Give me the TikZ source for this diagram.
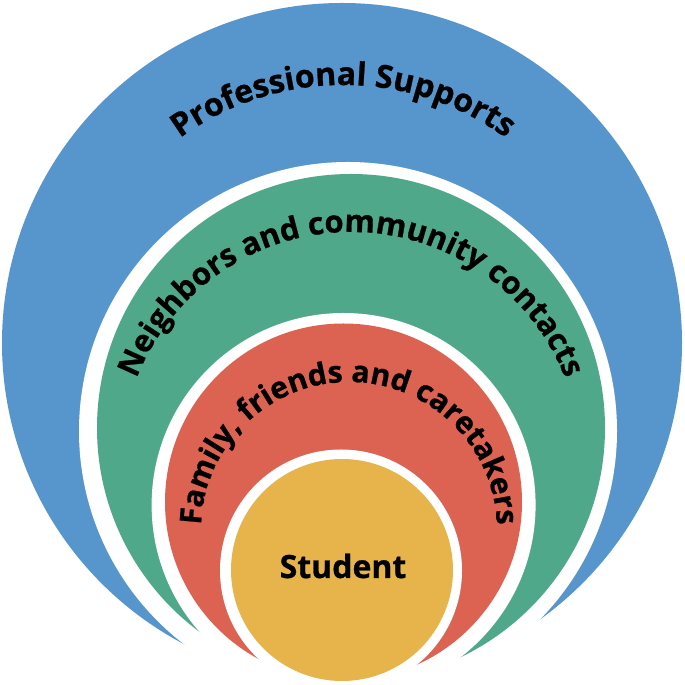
\documentclass[tikz,border=0pt]{standalone}
\usepackage{fontspec}
\setmainfont{Open Sans}[BoldFeatures={FakeBold=0.8}]
\usetikzlibrary{decorations.text}
\definecolor{cblue}{HTML}{5696CC}
\definecolor{cgreen}{HTML}{50A88A}
\definecolor{cred}{HTML}{DC6252}
\definecolor{cyellow}{HTML}{E6B44B}
\begin{document}
\begin{tikzpicture}[x=1pt,y=1pt,
  gap/.style={fill=white}]
\useasboundingbox (0,0) rectangle (685,685);
\clip (0,0) rectangle (685,685);
% rings
\fill[cblue] (342,342) circle[radius=340];
\fill[gap] (348,254) circle[radius=269];
\fill[cgreen] (351,257) circle[radius=254];
\fill[gap] (343.6,180) circle[radius=192];
\fill[cred] (343.5,183) circle[radius=178.5];
\fill[gap] (341,114.5) circle[radius=121];
\fill[cyellow] (342,115) circle[radius=111];
% curved labels
\path[decorate, decoration={text along path, text align=center,
  text={|\fontsize{32}{38}\selectfont\bfseries|Professional Supports}}]
  (66,323) arc[start angle=180, end angle=0, radius=277];
\path[decorate, decoration={text along path, text align=center,
  text={|\fontsize{31}{37}\selectfont\bfseries|Neighbors and community contacts}}]
  (121,223) arc[start angle=180, end angle=0, radius=230];
\path[decorate, decoration={text along path, text align=center,
  text={|\fontsize{30}{36}\selectfont\bfseries|Family{,} friends and caretakers}}]
  (201,155) arc[start angle=180, end angle=0, radius=148];
\node[anchor=base, font=\fontsize{32}{38}\selectfont\bfseries, inner sep=0pt] (student) at (343,107) {Student};
\end{tikzpicture}
\end{document}
